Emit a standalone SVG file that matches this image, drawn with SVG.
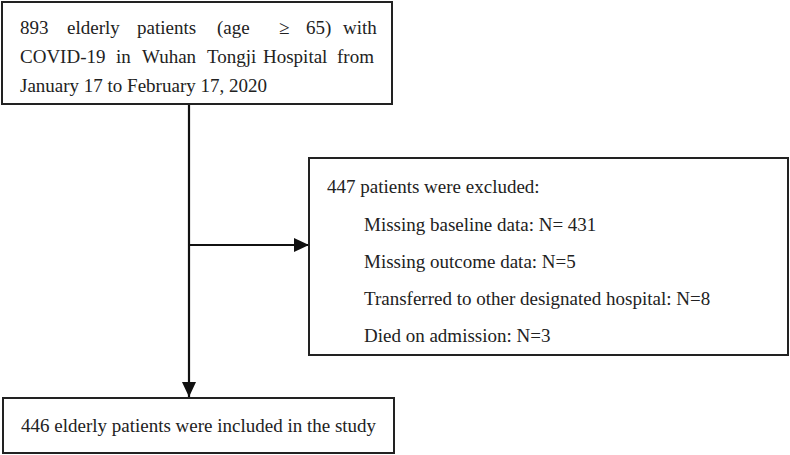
<svg xmlns="http://www.w3.org/2000/svg" width="790" height="455" viewBox="0 0 790 455">
<defs>
<style>
.box{fill:#fff;stroke:#222;stroke-width:2}
.t{font-family:"Liberation Serif","Times New Roman",serif;font-size:19px;fill:#222}
.c{stroke:#111;stroke-width:2.2;fill:none}
</style>
<marker id="ah2" markerWidth="15" markerHeight="14" refX="15" refY="7" orient="auto" markerUnits="userSpaceOnUse" viewBox="0 0 15 14">
<path d="M0,0 L15,7 L0,14 Z" fill="#111"/>
</marker>
</defs>
<rect width="790" height="455" fill="#fff"/>
<g id="connectors">
<line class="c" x1="189" y1="104" x2="189" y2="397" marker-end="url(#ah2)"/>
<line class="c" x1="189" y1="245" x2="309" y2="245" marker-end="url(#ah2)"/>
</g>
<g id="n1">
<rect class="box" x="2" y="2" width="390" height="102"/>
<text class="t" y="34"><tspan x="20">893</tspan><tspan x="67">elderly</tspan><tspan x="137">patients</tspan><tspan x="217">(age</tspan><tspan x="279">≥</tspan><tspan x="306">65)</tspan><tspan x="343">with</tspan></text>
<text class="t" y="63"><tspan x="20">COVID-19</tspan><tspan x="116">in</tspan><tspan x="142">Wuhan</tspan><tspan x="207">Tongji</tspan><tspan x="263">Hospital</tspan><tspan x="337">from</tspan></text>
<text class="t" x="20" y="92">January 17 to February 17, 2020</text>
</g>
<g id="n2">
<rect class="box" x="309" y="158" width="479" height="197"/>
<text class="t" x="327" y="193">447 patients were excluded:</text>
<text class="t" x="364" y="231">Missing baseline data: N= 431</text>
<text class="t" x="364" y="268">Missing outcome data: N=5</text>
<text class="t" x="364" y="305">Transferred to other designated hospital: N=8</text>
<text class="t" x="364" y="342">Died on admission: N=3</text>
</g>
<g id="n3">
<rect class="box" x="3" y="398" width="391" height="55"/>
<text class="t" x="21" y="432">446 elderly patients were included in the study</text>
</g>
</svg>
